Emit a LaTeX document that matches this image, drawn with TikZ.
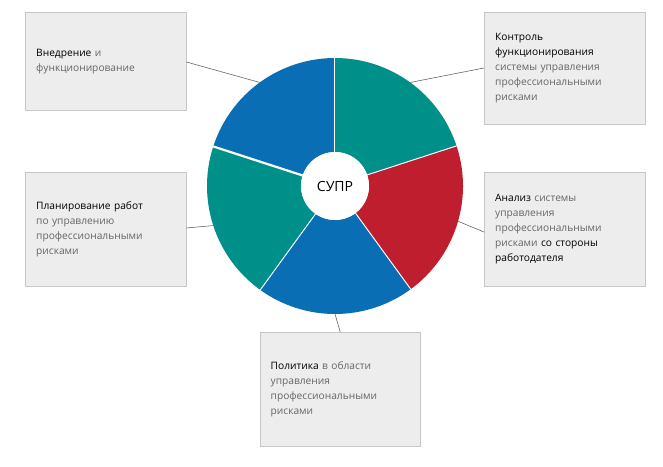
\documentclass[tikz,border=0pt]{standalone}
\usepackage{fontspec}
\setmainfont{Open Sans}
\definecolor{cblue}{HTML}{0A6EB4}
\definecolor{cteal}{HTML}{00908A}
\definecolor{cred}{HTML}{BE1E2D}
\definecolor{tgray}{HTML}{666666}
\begin{document}
\begin{tikzpicture}[x=1pt,y=-1pt,
  box/.style={draw=black!22,fill=black!7,anchor=north west,minimum width=161pt,text width=139pt,align=left,inner sep=10pt,font=\fontsize{10.2}{15}\selectfont,text=tgray},
  seg/.style={draw=white,line width=2.2pt},
  conn/.style={draw=black!60,line width=0.6pt}]
\useasboundingbox (0,0) rectangle (663,466);
\def\R{128}\def\r{34}
\coordinate (c) at (335,186);
\foreach \a/\bb/\col in {-90/-162/cblue,-18/-90/cteal,54/-18/cred,126/54/cblue,-162/-234/cteal}{
  \fill[\col] ([shift={(\a:\R)}]c) arc[start angle=\a,end angle=\bb,radius=\R] -- ([shift={(\bb:\r)}]c) arc[start angle=\bb,end angle=\a,radius=\r] -- cycle;
  \draw[seg] ([shift={(\a:\r)}]c) -- ([shift={(\a:\R)}]c);
}
\fill[white] (c) circle (\r);
\node[font=\fontsize{14}{16}\selectfont] (center) at (c) {СУПР};
\coordinate (p1) at ([shift={(-126:\R)}]c);
\coordinate (p2) at ([shift={(-54:\R)}]c);
\coordinate (p3) at ([shift={(16:\R)}]c);
\coordinate (p4) at ([shift={(-198:\R)}]c);
\coordinate (p5) at ([shift={(90:\R)}]c);
\node[box,minimum height=98pt] (tl) at (25,12) {\textcolor{black}{Внедрение} и функционирование\\[\baselineskip]};
\node[box,minimum height=112pt] (tr) at (484,12) {\textcolor{black}{Контроль функционирования} системы управления профессиональными рисками};
\node[box,minimum height=114pt] (r) at (484,172) {\textcolor{black}{Анализ} системы управления профессиональными рисками \textcolor{black}{со стороны работодателя}};
\node[box,minimum height=114pt] (l) at (25,172) {\textcolor{black}{Планирование работ} по управлению профессиональными рисками};
\node[box,minimum height=114pt,minimum width=160pt] (bt) at (260,332) {\textcolor{black}{Политика} в области управления профессиональными рисками};
\draw[conn] (tl.east|-0,62) -- (p1);
\draw[conn] (tr.west|-0,68) -- (p2);
\draw[conn] (r.west|-0,232) -- (p3);
\draw[conn] (l.east|-0,228) -- (p4);
\draw[conn] (bt.north) -- (p5);
\end{tikzpicture}
\end{document}
